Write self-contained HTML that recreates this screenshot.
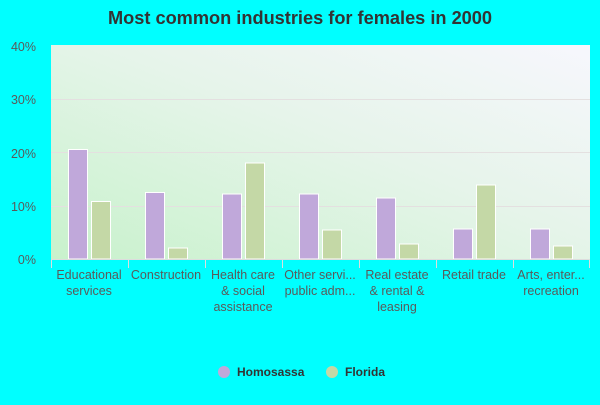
<!DOCTYPE html>
<html><head><style>
body{margin:0;width:600px;height:400px;background:#00ffff;font-family:"Liberation Sans",sans-serif;overflow:hidden}
</style></head><body>
<svg width="600" height="400" xmlns="http://www.w3.org/2000/svg" font-family="Liberation Sans, sans-serif">
<defs>
<linearGradient id="bg" x1="0" y1="1" x2="1" y2="0">
<stop offset="0" stop-color="#c8f2cc"/>
<stop offset="0.55" stop-color="#e6f4ea"/>
<stop offset="1" stop-color="#f7f7fd"/>
</linearGradient>
</defs>
<text x="300" y="24" text-anchor="middle" font-size="18.2" font-weight="bold" fill="#333">Most common industries for females in 2000</text>
<rect x="51" y="45" width="539" height="214" fill="url(#bg)"/>
<g stroke="#e4e0e0" stroke-width="1">
<line x1="51" x2="590" y1="99.5" y2="99.5"/>
<line x1="51" x2="590" y1="152.5" y2="152.5"/>
<line x1="51" x2="590" y1="206.5" y2="206.5"/>
</g>
<g font-size="12.5" fill="#5a5a5a" text-anchor="end">
<text x="36" y="51">40%</text><text x="36" y="104">30%</text><text x="36" y="158">20%</text><text x="36" y="211">10%</text><text x="36" y="264">0%</text>
</g>
<g stroke="#fff" stroke-width="1">
<rect x="68.5" y="149.5" width="19" height="109.5" fill="#c0a8da"/><rect x="91.5" y="201.5" width="19" height="57.5" fill="#c4d8a6"/>
<rect x="145.5" y="192.5" width="19" height="66.5" fill="#c0a8da"/><rect x="168.5" y="248" width="19" height="11" fill="#c4d8a6"/>
<rect x="222.5" y="194" width="19" height="65" fill="#c0a8da"/><rect x="245.5" y="163" width="19" height="96" fill="#c4d8a6"/>
<rect x="299.5" y="194" width="19" height="65" fill="#c0a8da"/><rect x="322.5" y="230" width="19" height="29" fill="#c4d8a6"/>
<rect x="376.5" y="198" width="19" height="61" fill="#c0a8da"/><rect x="399.5" y="244" width="19" height="15" fill="#c4d8a6"/>
<rect x="453.5" y="229" width="19" height="30" fill="#c0a8da"/><rect x="476.5" y="185" width="19" height="74" fill="#c4d8a6"/>
<rect x="530.5" y="229" width="19" height="30" fill="#c0a8da"/><rect x="553.5" y="246" width="19" height="13" fill="#c4d8a6"/>
</g>
<g stroke="#ddd" stroke-width="1">
<line x1="51" x2="590" y1="259.5" y2="259.5"/>
<line x1="51.5" x2="51.5" y1="259" y2="268"/><line x1="128.5" x2="128.5" y1="259" y2="268"/><line x1="205.5" x2="205.5" y1="259" y2="268"/><line x1="282.5" x2="282.5" y1="259" y2="268"/><line x1="359.5" x2="359.5" y1="259" y2="268"/><line x1="436.5" x2="436.5" y1="259" y2="268"/><line x1="513.5" x2="513.5" y1="259" y2="268"/><line x1="589.5" x2="589.5" y1="259" y2="268"/>
</g>
<g font-size="12.5" fill="#5a5a5a" text-anchor="middle">
<text x="89" y="279">Educational</text><text x="89" y="295">services</text>
<text x="166" y="279">Construction</text>
<text x="243" y="279">Health care</text><text x="243" y="295">&amp; social</text><text x="243" y="311">assistance</text>
<text x="320" y="279">Other servi...</text><text x="320" y="295">public adm...</text>
<text x="397" y="279">Real estate</text><text x="397" y="295">&amp; rental &amp;</text><text x="397" y="311">leasing</text>
<text x="474" y="279">Retail trade</text>
<text x="551" y="279">Arts, enter...</text><text x="551" y="295">recreation</text>
</g>
<circle cx="224" cy="372" r="6" fill="#c0a8da"/>
<text x="237" y="376" font-size="12" font-weight="bold" fill="#333">Homosassa</text>
<circle cx="332" cy="372" r="6" fill="#c4d8a6"/>
<text x="345" y="376" font-size="12" font-weight="bold" fill="#333">Florida</text>
</svg>
</body></html>
